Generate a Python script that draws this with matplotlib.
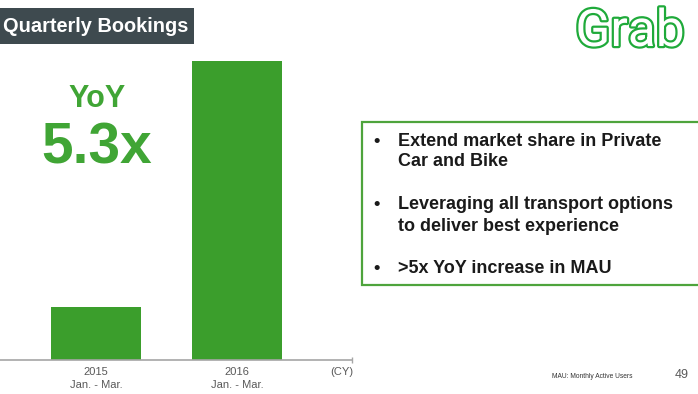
import matplotlib
matplotlib.use("Agg")
import matplotlib.pyplot as plt
import matplotlib.patheffects as pe
from matplotlib.patches import Rectangle

# ---- data ----
categories = ["2015\nJan. - Mar.", "2016\nJan. - Mar."]
bookings = [1.0, 5.6]
yoy_label = "5.3x"
bullets = [
    ["Extend market share in Private", "Car and Bike"],
    ["Leveraging all transport options", "to deliver best experience"],
    [">5x YoY increase in MAU"],
]

W, H = 698, 394
fig = plt.figure(figsize=(W / 100, H / 100), dpi=100)
fig.patch.set_facecolor("white")
plt.rcParams["font.family"] = ["Liberation Sans", "DejaVu Sans"]

GREEN = "#3b9e2c"
TXTGREEN = "#40a535"

def fx(px):
    return px / W

def fy(py):
    return 1 - py / H

# ---- bar chart axes ----
ax = fig.add_axes([0, fy(360), fx(352), (360 - 40) / H])
xpos = list(range(len(categories)))
ax.bar(xpos, bookings, width=0.638, color=GREEN, edgecolor="none")
ax.set_xlim(-0.681, 1.816)
ax.set_ylim(0, 6.0)
for s in ["top", "right", "left"]:
    ax.spines[s].set_visible(False)
ax.spines["bottom"].set_color("#a6a6a6")
ax.spines["bottom"].set_linewidth(1.2)
ax.set_yticks([])
ax.set_xticks(xpos)
ax.set_xticklabels(categories, fontsize=8, color="#595959", linespacing=1.35)
ax.tick_params(axis="x", length=0, pad=5)
ax.plot([1], [0], marker="|", markersize=5, color="#a6a6a6",
        transform=ax.transAxes, clip_on=False)
ax.patch.set_alpha(0)

fig.text(fx(330), fy(372), "(CY)", fontsize=8, color="#595959",
         ha="left", va="center")

# ---- YoY text ----
fig.text(fx(97), fy(107), "YoY", fontsize=22, fontweight="bold",
         color=TXTGREEN, ha="center", va="baseline")
fig.text(fx(97), fy(163), yoy_label, fontsize=41, fontweight="bold",
         color=TXTGREEN, ha="center", va="baseline")

# ---- title box ----
fig.patches.append(Rectangle((0, fy(44)), fx(194), (44 - 8) / H,
                             transform=fig.transFigure, facecolor="#3e4a4f",
                             edgecolor="none"))
fig.text(fx(3), fy(26), "Quarterly Bookings", fontsize=14.4,
         fontweight="bold", color="white", ha="left", va="center")

# ---- Grab logo ----
fig.text(fx(630), fy(46), "Grab", fontsize=37, color="white",
         ha="center", va="baseline", family=["Roboto", "DejaVu Sans"],
         path_effects=[pe.Stroke(linewidth=3.2, foreground="#1faa3a"),
                       pe.Normal()])

# ---- bullet box ----
fig.patches.append(Rectangle((fx(362), fy(285)), fx(360), (285 - 122) / H,
                             transform=fig.transFigure, facecolor="white",
                             edgecolor="#4ea43c", linewidth=1.6))
bullet_baselines = [[145.5, 165.5], [209, 231], [273]]
for lines, ybs in zip(bullets, bullet_baselines):
    fig.text(fx(377), fy(ybs[0]), "•", fontsize=13, fontweight="bold",
             color="#1a1a1a", ha="center", va="baseline")
    for txt, yb in zip(lines, ybs):
        fig.text(fx(398), fy(yb), txt, fontsize=13, fontweight="bold",
                 color="#1a1a1a", ha="left", va="baseline")

# ---- footer ----
fig.text(fx(633), fy(376), "MAU: Monthly Active Users", fontsize=4.8,
         color="#333333", ha="right", va="center")
fig.text(fx(689), fy(375), "49", fontsize=9, color="#595959",
         ha="right", va="center")

fig.savefig("out.png", dpi=100)
